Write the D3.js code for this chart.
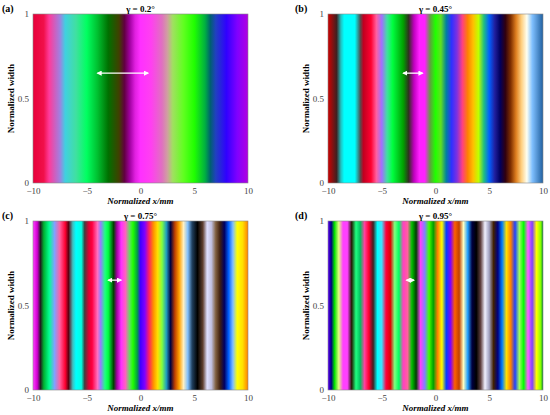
<!DOCTYPE html><html><head><meta charset="utf-8"><script src="https://d3js.org/d3.v7.min.js"></script>
<style>body{margin:0;background:#fff}text{font-family:"Liberation Serif",serif}</style></head><body><svg id="c" width="550" height="415"></svg>
<script>
const panelLabels=["(a)","(b)","(c)","(d)"];
const gammas=["0.2","0.45","0.75","0.95"];
const xTicks=[-10,-5,0,5,10];
const yTicks=[0,0.5,1];
const arrows=[[-4,0.7],[-3,-1.2],[-3,-1.8],[-2.7,-2.0]];
const stopsA=[[-10,"#e8003a"],[-9,"#f0104a"],[-8.5,"#ff3a9a"],[-7.5,"#a080e0"],[-7,"#40d0e0"],[-6,"#40e0a0"],[-5,"#00ff60"],[-4,"#00c030"],[-3,"#007000"],[-2,"#404000"],[-1.5,"#600040"],[-1,"#a000a0"],[-0.5,"#e020e0"],[0,"#ff30ff"],[1,"#ff40f0"],[2,"#e070c0"],[2.5,"#d0a0a0"],[3,"#a0e060"],[4,"#60ff20"],[5,"#20ff00"],[6,"#00b040"],[6.5,"#006070"],[7,"#2040c0"],[8,"#3000ff"],[9,"#8000ff"],[10,"#b000e0"]];
const stopsB=[[-10,"#d00000"],[-9.2,"#402020"],[-8.8,"#20c0c0"],[-8.5,"#00ffff"],[-7.5,"#00ffff"],[-7,"#505050"],[-6.7,"#c00020"],[-6,"#ff0030"],[-5.5,"#ff60a0"],[-5,"#a070ff"],[-4.5,"#40e0a0"],[-4,"#00ff40"],[-3,"#00a000"],[-2.5,"#303020"],[-2,"#c000c0"],[-1.5,"#ff20ff"],[-1,"#ff20ff"],[-0.5,"#60a040"],[0,"#20ff00"],[0.5,"#60e020"],[1,"#0080a0"],[1.5,"#3030ff"],[2,"#8030e0"],[2.5,"#ff4080"],[3,"#ff8000"],[3.5,"#ffc000"],[4,"#c0ff00"],[4.5,"#20c080"],[5,"#0060ff"],[5.5,"#2020a0"],[6,"#000060"],[6.5,"#300010"],[7,"#803000"],[7.5,"#e08020"],[8,"#ffd080"],[8.5,"#fffff0"],[9,"#80c0ff"],[10,"#2060a0"]];
const stopsC=[[-10,"#ff40ff"],[-9.6,"#d000d0"],[-9.3,"#202020"],[-9,"#00b030"],[-8.5,"#00ff90"],[-8,"#80a0ff"],[-7.5,"#ff60a0"],[-7,"#ff0030"],[-6.7,"#600010"],[-6.3,"#40c0c0"],[-6,"#00ffff"],[-5.5,"#00ffe0"],[-5.2,"#404040"],[-4.8,"#e00030"],[-4.5,"#ff0040"],[-4,"#ff70c0"],[-3.7,"#9080ff"],[-3.3,"#20ff80"],[-3,"#00ff40"],[-2.5,"#004000"],[-2.2,"#a000a0"],[-1.8,"#ff30ff"],[-1.4,"#ff60c0"],[-1,"#60e060"],[-0.7,"#20ff00"],[-0.3,"#00a040"],[0,"#4000ff"],[0.4,"#8000ff"],[0.8,"#ff2060"],[1.2,"#ff9000"],[1.6,"#ffe000"],[2,"#80ff40"],[2.4,"#20a0c0"],[2.8,"#000040"],[3.2,"#c04000"],[3.6,"#ffa000"],[4,"#fff0c0"],[4.4,"#80c0ff"],[4.8,"#204060"],[5.3,"#000000"],[5.8,"#604030"],[6.2,"#e0e0ff"],[6.6,"#c0c0e0"],[7,"#806040"],[7.4,"#402010"],[7.8,"#000060"],[8.2,"#0060ff"],[8.6,"#80c0ff"],[9,"#ffff00"],[9.5,"#ffe000"],[10,"#ff8000"]];
const stopsD=[[-10,"#6000ff"],[-9.7,"#000080"],[-9.4,"#00e000"],[-9,"#e0ff80"],[-8.6,"#ff40ff"],[-8.2,"#ff40ff"],[-7.8,"#202000"],[-7.4,"#20ff80"],[-7,"#00c060"],[-6.6,"#ff40a0"],[-6.2,"#ff0030"],[-5.8,"#402020"],[-5.4,"#00ffff"],[-5,"#40e0ff"],[-4.6,"#ff0040"],[-4.2,"#e00000"],[-3.8,"#80ff80"],[-3.4,"#00ff60"],[-3,"#ff40c0"],[-2.6,"#ff60a0"],[-2.2,"#00c000"],[-1.8,"#004000"],[-1.4,"#ff40ff"],[-1,"#8080ff"],[-0.6,"#40ff00"],[-0.2,"#00a000"],[0.2,"#ff8000"],[0.6,"#ffff00"],[1,"#0040ff"],[1.4,"#8000ff"],[1.8,"#ff6000"],[2.2,"#c04000"],[2.6,"#ffffc0"],[3,"#20a0ff"],[3.4,"#000040"],[3.8,"#000000"],[4.2,"#604040"],[4.6,"#f0f0ff"],[5,"#a0a0c0"],[5.4,"#402000"],[5.8,"#000080"],[6.2,"#0080ff"],[6.6,"#ffe000"],[7,"#ff8000"],[7.4,"#2040ff"],[7.8,"#a0ff60"],[8.2,"#00ff00"],[8.6,"#ff60ff"],[9,"#8040ff"],[9.4,"#ffff00"],[9.8,"#80ff00"],[10,"#008030"]];
const allStops=[stopsA,stopsB,stopsC,stopsD];
const svg=d3.select("#c");const defs=svg.append("defs");
const origins=[[33,14],[328,14],[33,221],[328,221]];
const W=215,H=169;
defs.append("marker").attr("id","ah").attr("viewBox","0 0 10 10").attr("refX",8).attr("refY",5).attr("markerWidth",4).attr("markerHeight",4).attr("orient","auto-start-reverse").append("path").attr("d","M0,0L10,5L0,10z").attr("fill","#fff");
allStops.forEach((st,i)=>{
  const [ox,oy]=origins[i];
  const x=d3.scaleLinear().domain([-10,10]).range([0,W]);
  const y=d3.scaleLinear().domain([0,1]).range([H,0]);
  const g=svg.append("g").attr("transform",`translate(${ox},${oy})`);
  const gr=defs.append("linearGradient").attr("id","g"+i).attr("x1",0).attr("x2",1).attr("y1",0).attr("y2",0);
  st.forEach(s=>gr.append("stop").attr("offset",x(s[0])/W).attr("stop-color",s[1]));
  g.append("rect").attr("x",x(-10)).attr("y",y(1)).attr("width",x(10)-x(-10)).attr("height",y(0)-y(1)).attr("fill",`url(#g${i})`);
  g.append("rect").attr("width",W).attr("height",H).attr("fill","none").attr("stroke","#888").attr("stroke-width",0.6);
  const xa=g.append("g").attr("transform",`translate(0,${H})`).call(d3.axisBottom(x).tickValues(xTicks).tickSize(0).tickPadding(5).tickFormat(d=>d<0?"\u2212"+(-d):d));
  const ya=g.append("g").call(d3.axisLeft(y).tickValues(yTicks).tickSize(0).tickPadding(4).tickFormat(d=>String(d)));
  [xa,ya].forEach(a=>{a.select(".domain").remove();a.selectAll("text").attr("font-family","Liberation Serif").attr("font-size",9).attr("fill","#444");});
  g.append("line").attr("x1",x(arrows[i][0])).attr("x2",x(arrows[i][1])).attr("y1",y(0.65)).attr("y2",y(0.65)).attr("stroke","#fff").attr("stroke-width",1.3).attr("marker-start","url(#ah)").attr("marker-end","url(#ah)");
  g.append("text").attr("x",W/2).attr("y",-2).attr("text-anchor","middle").attr("font-size",9).attr("font-weight","bold").text(`\u03b3 = ${gammas[i]}\u00b0`);
  g.append("text").attr("x",W/2).attr("y",H+21).attr("text-anchor","middle").attr("font-size",9).attr("font-weight","bold").attr("font-style","italic").text("Normalized x/mm");
  g.append("text").attr("transform",`translate(-19,${H/2}) rotate(-90)`).attr("text-anchor","middle").attr("font-size",9).attr("font-weight","bold").text("Normalized width");
  svg.append("text").attr("x",ox-31+(i%2?-2:0)).attr("y",oy-2).attr("font-size",10).attr("font-weight","bold").text(panelLabels[i]);
});
</script></body></html>
